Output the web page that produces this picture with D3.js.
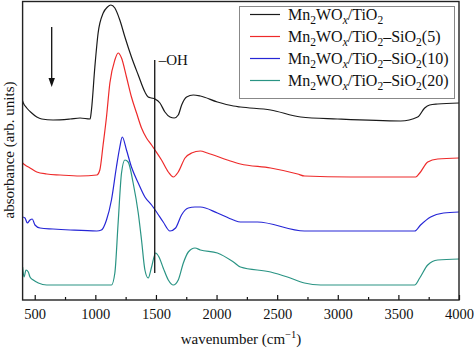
<!DOCTYPE html>
<html><head><meta charset="utf-8">
<script src="https://cdn.jsdelivr.net/npm/d3@7/dist/d3.min.js"></script>
<style>html,body{margin:0;padding:0;background:#fff;}svg{display:block;font-family:"Liberation Serif","Times New Roman",serif;}</style>
</head><body><svg id="c" width="474" height="349"></svg>
<script>
// wavenumber (cm-1), absorbance (arb. units)
const blackW = [400,406,434,475,517,558,651,792,874,957,968,996,1023,1065,1100,1128,1161,1202,1244,1298,1354,1409,1436,1464,1492,1533,1574,1616,1651,1684,1712,1753,1808,1866,2007,2139,2197,2446,2694,2998,3519,3659,3717,3758,3824,4000];
const blackA = [1.99,1.97,1.92,1.87,1.83,1.81,1.80,1.81,1.82,1.81,1.90,2.33,2.67,2.87,2.93,2.95,2.92,2.80,2.63,2.43,2.25,2.08,2.03,2.02,2.01,1.97,1.88,1.83,1.82,1.85,1.95,2.03,2.05,2.04,1.98,1.94,1.93,1.90,1.83,1.81,1.79,1.83,1.92,1.95,1.96,1.97];
const redW = [400,420,461,517,599,709,874,1012,1037,1064,1092,1120,1161,1188,1216,1257,1298,1340,1381,1422,1464,1492,1546,1602,1643,1684,1740,1794,1866,1924,2089,2197,2446,2669,2727,3107,3643,3676,3742,3824,4000];
const redA = [1.37,1.35,1.32,1.28,1.26,1.25,1.24,1.25,1.30,1.55,1.83,2.17,2.40,2.47,2.42,2.23,2.03,1.87,1.72,1.62,1.55,1.50,1.40,1.28,1.23,1.28,1.42,1.47,1.49,1.47,1.40,1.36,1.32,1.26,1.24,1.23,1.23,1.27,1.38,1.41,1.42];
const blueW = [400,420,439,461,480,502,544,651,792,1012,1050,1092,1133,1174,1202,1222,1257,1298,1354,1409,1464,1505,1560,1616,1662,1711,1767,1822,1866,2007,2139,2197,2337,2725,3634,3683,3766,3873,4000];
const blueA = [0.83,0.82,0.77,0.80,0.81,0.75,0.72,0.71,0.70,0.69,0.70,0.80,1.00,1.33,1.53,1.63,1.50,1.33,1.17,1.03,0.95,0.88,0.78,0.69,0.72,0.85,0.92,0.93,0.93,0.87,0.80,0.78,0.78,0.69,0.69,0.75,0.83,0.87,0.88];
const tealW = [400,412,428,447,461,488,530,599,792,1031,1133,1161,1188,1216,1244,1271,1312,1354,1381,1409,1436,1464,1497,1525,1560,1602,1643,1684,1726,1767,1822,1866,2007,2139,2197,2446,2585,2725,2858,3634,3676,3742,3824,4000];
const tealA = [0.33,0.23,0.30,0.28,0.23,0.20,0.17,0.15,0.15,0.15,0.15,0.27,0.77,1.27,1.40,1.38,1.17,0.87,0.60,0.30,0.22,0.33,0.47,0.43,0.32,0.20,0.15,0.20,0.37,0.48,0.52,0.50,0.47,0.38,0.33,0.28,0.23,0.17,0.15,0.15,0.22,0.35,0.40,0.41];
const xTicks = [500,1000,1500,2000,2500,3000,3500,4000];
const xMinorTicks = [750,1250,1750,2250,2750,3250,3750];
const seriesNames = [
  [["Mn"],["2","sub"],["WO"],["x","subi"],["/TiO"],["2","sub"]],
  [["Mn"],["2","sub"],["WO"],["x","subi"],["/TiO"],["2","sub"],["\u2013SiO"],["2","sub"],["(5)"]],
  [["Mn"],["2","sub"],["WO"],["x","subi"],["/TiO"],["2","sub"],["\u2013SiO"],["2","sub"],["(10)"]],
  [["Mn"],["2","sub"],["WO"],["x","subi"],["/TiO"],["2","sub"],["\u2013SiO"],["2","sub"],["(20)"]]
];
const colors = ["#1a1a1a","#ee2a2a","#2626d6","#2a9484"];
const ohW = 1490, ohTop = 2.40, ohBottom = 0.27;
const arrowW = 640, arrowTop = 2.73, arrowTip = 2.13;

const svg = d3.select("#c");
const m = {l:22.6, r:15, t:1.5, b:49};
const W = 474, H = 349;
const x = d3.scaleLinear().domain([400,4000]).range([m.l, W-m.r]);
const y = d3.scaleLinear().domain([0,2.985]).range([H-m.b, m.t]);

const series = [[blackW,blackA],[redW,redA],[blueW,blueA],[tealW,tealA]];
const line = d3.line().x(d=>x(d[0])).y(d=>y(d[1])).curve(d3.curveMonotoneX);
const g = svg.append("g");
series.forEach((s,i)=>{
  const pts = s[0].map((w,j)=>[w,s[1][j]]);
  g.append("path").attr("d",line(pts)).attr("fill","none").attr("stroke",colors[i]).attr("stroke-width",1.2);
});

// -OH line
g.append("line").attr("x1",x(ohW)).attr("x2",x(ohW)).attr("y1",y(ohTop)).attr("y2",y(ohBottom)).attr("stroke","#111").attr("stroke-width",1.3);
svg.append("text").attr("x",x(ohW)+4).attr("y",y(ohTop)+5).attr("font-size",15).attr("fill","#111").text("\u2013OH");

// arrow
const ax = x(arrowW);
g.append("line").attr("x1",ax).attr("x2",ax).attr("y1",y(arrowTop)).attr("y2",y(arrowTip)-6).attr("stroke","#111").attr("stroke-width",1.3);
g.append("path").attr("d",`M${ax-3.2},${y(arrowTip)-9}L${ax},${y(arrowTip)}L${ax+3.2},${y(arrowTip)-9}Z`).attr("fill","#111");

// axis
const axG = svg.append("g").attr("transform",`translate(0,${H-m.b})`);
axG.call(d3.axisBottom(x).tickValues(xTicks).tickSize(-5).tickPadding(9).tickFormat(d3.format("d")));
axG.select(".domain").remove();
axG.selectAll("text").attr("font-size",14.5).attr("font-family","Liberation Serif").attr("fill","#111");
axG.selectAll("line").attr("stroke","#111").attr("stroke-width",1.2);
const mnG = svg.append("g").attr("transform",`translate(0,${H-m.b})`);
mnG.call(d3.axisBottom(x).tickValues(xMinorTicks).tickSize(-3).tickFormat(""));
mnG.select(".domain").remove();
mnG.selectAll("line").attr("stroke","#111").attr("stroke-width",1.2);

// frame
svg.append("rect").attr("x",m.l).attr("y",m.t).attr("width",W-m.r-m.l).attr("height",H-m.b-m.t).attr("fill","none").attr("stroke","#222").attr("stroke-width",1.4);

// labels
svg.append("text").attr("x",241).attr("y",344).attr("text-anchor","middle").attr("font-size",15).attr("fill","#111")
  .call(t=>{t.append("tspan").text("wavenumber (cm");t.append("tspan").attr("dy",-6).attr("font-size",10.5).text("\u22121");t.append("tspan").attr("dy",6).text(")");});
svg.append("text").attr("transform","translate(14,150) rotate(-90)").attr("text-anchor","middle").attr("font-size",15).attr("fill","#111").text("absorbance (arb. units)");

// legend
const lg = svg.append("g");
lg.append("rect").attr("x",239.5).attr("y",6.5).attr("width",215).attr("height",92).attr("fill","#fff").attr("stroke","#888").attr("stroke-width",1);
seriesNames.forEach((segs,i)=>{
  const yy = 14.5 + i*22;
  lg.append("line").attr("x1",250).attr("x2",280).attr("y1",yy).attr("y2",yy).attr("stroke",colors[i]).attr("stroke-width",1.2);
  const t = lg.append("text").attr("x",288).attr("y",yy+5.5).attr("font-size",16).attr("fill","#111");
  let shift = 0;
  segs.forEach(([s,k])=>{
    const want = (k==="sub"||k==="subi") ? 4 : 0;
    const sp = t.append("tspan").attr("dy",want-shift).text(s);
    if(k==="sub"||k==="subi"){ sp.attr("font-size",11.5); }
    if(k==="subi"){ sp.attr("font-style","italic"); }
    shift = want;
  });
});
</script></body></html>
